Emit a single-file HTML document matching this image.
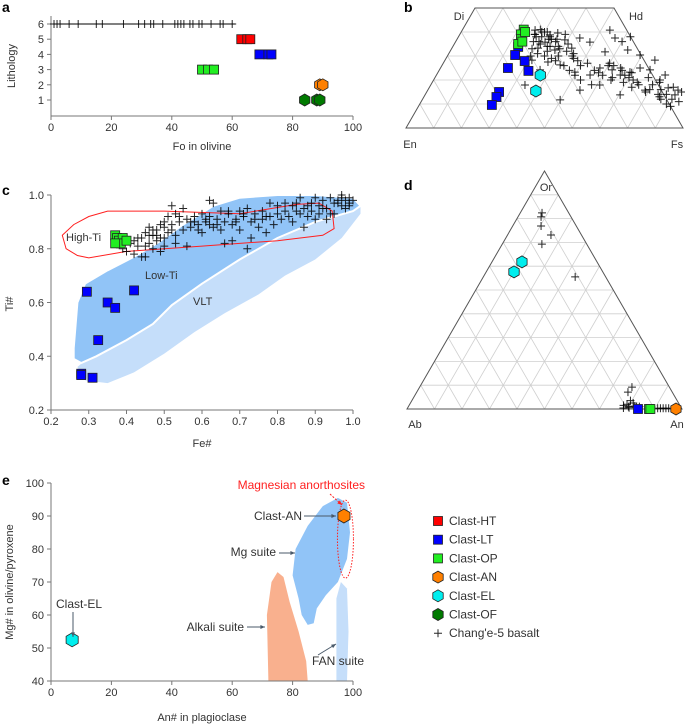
<!DOCTYPE html>
<html><head><meta charset="utf-8">
<style>
body{margin:0;background:#fff;}
svg{display:block;font-family:"Liberation Sans",sans-serif;}
text{fill:#333;}
</style></head>
<body>
<svg id="fig" width="685" height="725" viewBox="0 0 685 725" xmlns="http://www.w3.org/2000/svg">
<defs>
<clipPath id="clipb"><rect x="380" y="8" width="305" height="125"/></clipPath>
</defs>
<g id="layer"></g>
</svg>
<script>
// ---------- DATA ----------
const aBasaltFo=[1,2,3,6,9,15,17,24,29,31,33,34,37,41,42,43,44,46,47,49,50,53,56,57,60];
const aHT=[63,65,66];
const aLT=[69,72,73];
const aOP=[50,52,54];
const aAN=[89,90];
const aOF=[84,88,89];
const bBasaltWo=[40.8,40,38.8,39.6,35.8,33.3,32.5,36.7,33.3,37.5,35.8,28.3,27.5,26.3,23.3,22.1,25,24.2,22.1,23.3,25,24.2,20,16.7,13.8,40.8,37.5,31.7,17.9,15.8,11.7,17.9,24.2,13.8,15.8,28.3,30.4,32.5,22.1,15.8,38,36,34,30,29,27,26,21,19,18,14,12,10,9,20,18,39,37,
 41,40,39,38,37,36,35,34,33,32,31,30,39,37,35,33,31,29,40,38,36,34,32,30,28,26,24,22,20,26,24,22,20,18,16,23,21,19,17,15,13,27,25,23,21,19,17,15,12,11,14,16,22,24,26,28,30,36,38];
const bBasaltFs=[26.2,29,32.6,35,32.3,31,37.5,39,43.2,44,48.5,31.3,37.5,42.5,49.3,55.4,57.5,62.3,66.3,69.2,72,76,81.7,86.3,90.2,53.2,56.7,56,61,54.9,49.8,34,36.3,70.4,78.4,75.7,69.3,63.8,82.5,90.3,28,30,35,40,46,52,60,70,74,80,84,86,89,91,64,58,27,34,
 28,31,27,30,33,28,31,34,29,35,32,30,38,36,41,39,45,38,30,33,36,38,42,35,40,44,47,50,53,62,66,68,72,75,80,58,64,69,73,79,85,60,65,70,77,82,88,92,90,93,87,84,60,56,50,48,45,60,62];
const bLTWo=[33.8,30.4,27.9,25,23.8,15,12.9,9.6];
const bLTFs=[23.6,24.2,28.9,24.3,32.3,26.1,26.2,26.2];
const bOPWo=[41,39,37,35,36,40];
const bOPFs=[22,22,23,23,24,23];
const bELWo=[22,15.4];
const bELFs=[37.5,39.2];
const cBasaltFe=[0.39,0.40,0.41,0.42,0.43,0.44,0.44,0.45,0.46,0.46,0.47,0.47,0.48,0.48,0.49,0.49,0.50,0.50,0.51,0.51,0.52,0.53,0.53,0.54,0.55,0.55,0.56,0.56,0.57,0.58,0.59,0.60,0.60,0.61,0.62,0.62,0.63,0.63,0.64,0.65,0.65,0.66,0.66,0.67,0.68,0.68,0.69,0.70,0.70,0.71,0.72,0.72,0.73,0.73,0.74,0.75,0.76,0.76,0.77,0.78,0.78,0.79,0.80,0.80,0.81,0.82,0.83,0.84,0.84,0.85,0.86,0.86,0.87,0.87,0.88,0.89,0.89,0.90,0.90,0.91,0.91,0.92,0.93,0.93,0.94,0.95,0.95,0.96,0.97,0.97,0.98,0.98,0.99,0.99,1.0,0.45,0.49,0.52,0.42,0.46,
 0.43,0.45,0.47,0.48,0.50,0.52,0.54,0.57,0.59,0.61,0.64,0.67,0.69,0.74,0.77,0.82,0.85,0.88,0.92,0.96,0.94,0.97,0.99,0.50,0.53,0.58,0.62,0.71];
const cBasaltTi=[0.80,0.79,0.82,0.78,0.81,0.77,0.84,0.86,0.82,0.88,0.85,0.80,0.87,0.83,0.89,0.84,0.88,0.81,0.86,0.92,0.89,0.85,0.93,0.90,0.95,0.87,0.91,0.81,0.88,0.92,0.89,0.93,0.86,0.90,0.92,0.98,0.88,0.97,0.91,0.94,0.87,0.90,0.82,0.93,0.89,0.83,0.91,0.94,0.87,0.92,0.95,0.80,0.90,0.84,0.93,0.88,0.94,0.91,0.86,0.92,0.97,0.89,0.93,0.96,0.91,0.94,0.92,0.96,0.90,0.97,0.93,0.99,0.95,0.88,0.92,0.97,0.94,0.99,0.91,0.96,0.93,0.98,0.95,0.91,0.99,0.97,0.93,0.98,0.96,1.0,0.98,0.95,0.99,0.97,0.98,0.77,0.79,0.96,0.83,0.85,
 0.84,0.81,0.87,0.85,0.90,0.87,0.92,0.90,0.87,0.91,0.89,0.94,0.90,0.91,0.92,0.97,0.94,0.96,0.95,0.97,0.93,0.99,0.96,0.84,0.82,0.90,0.89,0.93];
const cLTFe=[0.295,0.35,0.37,0.42,0.325,0.28,0.31,0.28];
const cLTTi=[0.64,0.60,0.58,0.645,0.46,0.335,0.32,0.33];
const cOPFe=[0.37,0.375,0.38,0.39,0.385,0.40,0.37];
const cOPTi=[0.85,0.84,0.83,0.84,0.82,0.83,0.82];
const dBasaltAn=[8.4,7.9,10.3,15.8,14.4,33.4,77.2,76.8,78,79,80,81,82,83,84,79.5,80.5,91,92,93,94,95,78.5];
const dBasaltOr=[80.7,82.4,76.9,73.1,69.3,55.5,9.2,7.1,1.5,2,1,2.5,1.2,0.8,1,3.5,0.5,0.3,0.3,0.3,0.3,0.3,0.4];
const dLTAn=[84];
const dOPAn=[88,88.5];
const dANAn=[97.8];
const dELAn=[10.9,10.1];
const dELOr=[61.8,57.6];
const eANAn=[97]; const eANMg=[90];
const eELAn=[7]; const eELMg=[52.5];

// ---------- helpers ----------
const NS="http://www.w3.org/2000/svg";
const L=document.getElementById('layer');
function mk(tag,attrs,parent){const e=document.createElementNS(NS,tag);for(const k in attrs)e.setAttribute(k,attrs[k]);(parent||L).appendChild(e);return e;}
function lin(d0,d1,r0,r1){return v=>r0+(v-d0)/(d1-d0)*(r1-r0);}
function txt(x,y,s,size,anchor,extra){const t=mk('text',Object.assign({x:x,y:y,'font-size':size,'text-anchor':anchor||'start'},extra||{}));t.textContent=s;return t;}
function sq(x,y,c,name){const e=mk('rect',{x:x-4.5,y:y-4.5,width:9,height:9,fill:c,stroke:'#222','stroke-width':0.8});

return e;}
function hex(x,y,c,name,r){r=r||6;let p=[];for(let i=0;i<6;i++){const a=Math.PI/3*i+Math.PI/6;p.push((x+r*Math.cos(a)).toFixed(1)+','+(y+r*Math.sin(a)).toFixed(1));}
const e=mk('polygon',{points:p.join(' '),fill:c,stroke:'#222','stroke-width':0.8});

return e;}
function cross(x,y,name){const e=mk('path',{d:`M${x-4},${y}H${x+4}M${x},${y-4}V${y+4}`,stroke:'#000','stroke-width':1,'stroke-opacity':0.85});

return e;}
function poly(pts,fx,fy,attrs,name){const e=mk('polygon',Object.assign({points:pts.map(p=>fx(p[0]).toFixed(1)+','+fy(p[1]).toFixed(1)).join(' ')},attrs));

return e;}
function axes(x0,x1,y0,y1,xt,yt,fx,fy,xfmt,yfmt,prefix){
 const g=mk('g',{});
 
 
 mk('line',{x1:x0,y1:y1,x2:x1,y2:y1,stroke:'#777','stroke-width':1},g);
 mk('line',{x1:x0,y1:y0,x2:x0,y2:y1,stroke:'#777','stroke-width':1},g);
 xt.forEach(v=>{const x=fx(v);mk('line',{x1:x,y1:y1,x2:x,y2:y1+4,stroke:'#777'},g);const t=txt(x,y1+15,xfmt(v),11,'middle');g.appendChild(t);});
 yt.forEach(v=>{const y=fy(v);mk('line',{x1:x0-4,y1:y,x2:x0,y2:y,stroke:'#777'},g);const t=txt(x0-7,y+4,yfmt(v),11,'end');g.appendChild(t);});
}
function panelLetter(x,y,s){const t=txt(x,y,s,14,'start',{'font-weight':'bold',style:'fill:#000'});

}

// ---------- Panel a ----------
panelLetter(2,12,'a');
const xa=lin(0,100,51,353), ya=lin(1,6,100,24);
axes(51,353,16,116,[0,20,40,60,80,100],[1,2,3,4,5,6],xa,ya,v=>v,v=>v,'panel-a');
txt(202,150,'Fo in olivine',11,'middle');
txt(15,66,'Lithology',11,'middle',{transform:'rotate(-90 15 66)'});
mk('line',{x1:xa(1),y1:ya(6),x2:xa(61),y2:ya(6),stroke:'#000','stroke-width':1});
aBasaltFo.forEach(v=>cross(xa(v),ya(6),'a-basalt-point'));
aHT.forEach(v=>sq(xa(v),ya(5),'#ff0000','a-clast-ht'));
aLT.forEach(v=>sq(xa(v),ya(4),'#0000ff','a-clast-lt'));
aOP.forEach(v=>sq(xa(v),ya(3),'#22ee22','a-clast-op'));
aAN.forEach(v=>hex(xa(v),ya(2),'#ff8000','a-clast-an'));
aOF.forEach(v=>hex(xa(v),ya(1),'#007a00','a-clast-of'));

function ternGrid(E,F,A,n,clip,name){
 const g=mk('g',clip?{'clip-path':'url(#clipb)'}:{});
 
 
 const P=(a,b,c)=>[a[0]+(b[0]-a[0])*c,a[1]+(b[1]-a[1])*c];
 for(let i=1;i<n;i++){const f=i/n;
  let p1=P(E,A,f),p2=P(F,A,f);mk('line',{x1:p1[0],y1:p1[1],x2:p2[0],y2:p2[1],stroke:'#cfcfcf','stroke-width':0.8},g);
  p1=P(E,F,f);p2=P(E,A,f);mk('line',{x1:p1[0],y1:p1[1],x2:p2[0],y2:p2[1],stroke:'#cfcfcf','stroke-width':0.8},g);
  p1=P(E,F,f);p2=P(F,A,1-f);mk('line',{x1:p1[0],y1:p1[1],x2:p2[0],y2:p2[1],stroke:'#cfcfcf','stroke-width':0.8},g);
 }
}

// ---------- Panel b ----------
panelLetter(404,12,'b');
const bE=[406,128],bF=[683,128],bA=[544.5,-112];
ternGrid(bE,bF,bA,10,true,'b-grid');
const bOut=mk('polygon',{points:'406,128 683,128 614,8 475,8',fill:'none',stroke:'#555','stroke-width':1});


const bx=(wo,fs)=>406+277*(fs/100+wo/200), by=wo=>128-240*wo/100;
txt(459,20,'Di',11,'middle');txt(636,20,'Hd',11,'middle');
txt(410,148,'En',11,'middle');txt(677,148,'Fs',11,'middle');
bBasaltWo.forEach((w,i)=>cross(bx(w,bBasaltFs[i]),by(w),'b-basalt-point'));
bLTWo.forEach((w,i)=>sq(bx(w,bLTFs[i]),by(w),'#0000ff','b-clast-lt'));
bOPWo.forEach((w,i)=>sq(bx(w,bOPFs[i]),by(w),'#22ee22','b-clast-op'));
bELWo.forEach((w,i)=>hex(bx(w,bELFs[i]),by(w),'#00eeee','b-clast-el'));

// ---------- Panel c ----------
panelLetter(2,195,'c');
const xc=lin(0.2,1,51,353), yc=lin(0.2,1,410,195);
poly([[0.27,0.36],[0.29,0.31],[0.35,0.30],[0.42,0.34],[0.50,0.41],[0.58,0.49],[0.66,0.56],[0.75,0.63],[0.82,0.70],[0.90,0.76],[0.97,0.84],[1.02,0.93],[1.02,0.96],[0.98,0.95],[0.90,0.91],[0.80,0.86],[0.70,0.79],[0.60,0.70],[0.52,0.62],[0.47,0.56],[0.40,0.49],[0.32,0.42]],xc,yc,{fill:'#c5defa'},'c-vlt-field');
poly([[0.26,0.43],[0.26,0.39],[0.28,0.375],[0.32,0.40],[0.40,0.46],[0.47,0.52],[0.52,0.59],[0.60,0.67],[0.70,0.76],[0.80,0.84],[0.90,0.90],[1.0,0.94],[1.02,0.96],[1.0,0.99],[0.90,1.0],[0.80,1.0],[0.70,0.99],[0.63,0.96],[0.55,0.89],[0.48,0.82],[0.42,0.77],[0.35,0.72],[0.29,0.67],[0.27,0.60]],xc,yc,{fill:'#91c4f7',stroke:'#fff','stroke-width':2},'c-lowti-field');
poly([[0.23,0.85],[0.26,0.89],[0.30,0.92],[0.35,0.94],[0.50,0.94],[0.70,0.93],[0.85,0.965],[0.91,0.97],[0.945,0.94],[0.95,0.875],[0.92,0.85],[0.80,0.83],[0.60,0.81],[0.40,0.79],[0.30,0.766],[0.27,0.775],[0.24,0.80]],xc,yc,{fill:'none',stroke:'#ff2020','stroke-width':1},'c-highti-outline');
axes(51,353,195,410,[0.2,0.3,0.4,0.5,0.6,0.7,0.8,0.9,1.0],[0.2,0.4,0.6,0.8,1.0],xc,yc,v=>v.toFixed(1),v=>v.toFixed(1),'panel-c');
txt(202,447,'Fe#',11,'middle');
txt(13,304,'Ti#',11,'middle',{transform:'rotate(-90 13 304)'});
txt(66,241,'High-Ti',11,'start');txt(145,279,'Low-Ti',11,'start');txt(193,305,'VLT',11,'start');
cBasaltFe.forEach((f,i)=>cross(xc(f),yc(cBasaltTi[i]),'c-basalt-point'));
cLTFe.forEach((f,i)=>sq(xc(f),yc(cLTTi[i]),'#0000ff','c-clast-lt'));
cOPFe.forEach((f,i)=>sq(xc(f),yc(cOPTi[i]),'#22ee22','c-clast-op'));

// ---------- Panel d ----------
panelLetter(404,190,'d');
const dAb=[407,409],dAn=[682,409],dOr=[544.5,171];
ternGrid(dAb,dAn,dOr,10,false,'d-grid');
const dOut=mk('polygon',{points:'407,409 682,409 544.5,171',fill:'none',stroke:'#555','stroke-width':1});


const dx=(an,or)=>407+275*(an/100+or/200), dy=or=>409-238*or/100;
txt(546,191,'Or',11,'middle');txt(415,428,'Ab',11,'middle');txt(677,428,'An',11,'middle');
dBasaltAn.forEach((a,i)=>cross(dx(a,dBasaltOr[i]),dy(dBasaltOr[i]),'d-basalt-point'));
dLTAn.forEach(a=>sq(dx(a,0),dy(0),'#0000ff','d-clast-lt'));
dOPAn.forEach(a=>sq(dx(a,0),dy(0),'#22ee22','d-clast-op'));
dANAn.forEach(a=>hex(dx(a,0),dy(0),'#ff8000','d-clast-an'));
dELAn.forEach((a,i)=>hex(dx(a,dELOr[i]),dy(dELOr[i]),'#00eeee','d-clast-el'));

// ---------- Panel e ----------
panelLetter(2,485,'e');
const xe=lin(0,100,51,353), ye=lin(40,100,681,483);
poly([[80,72],[81,80],[85,87],[90,93],[95,95.5],[98,94],[99,85],[98,77],[95,70],[91,66],[88,62],[87,57.5],[85,57],[83,60],[82,65]],xe,ye,{fill:'#91c4f7'},'e-mg-suite-field');
poly([[72,40],[71.5,60],[73,70],[75,73],[77,71.5],[79,64],[82,55],[84.5,46],[85,40]],xe,ye,{fill:'#f9b08e'},'e-alkali-suite-field');
poly([[94.5,40],[94.5,65],[96,70],[98,68],[98.5,55],[98,40]],xe,ye,{fill:'#c5defa'},'e-fan-suite-field');
const el=mk('ellipse',{cx:xe(97.5),cy:ye(83),rx:8,ry:39,fill:'none',stroke:'#ff2020','stroke-width':1,'stroke-dasharray':'1.5,1.5'});


axes(51,353,483,681,[0,20,40,60,80,100],[40,50,60,70,80,90,100],xe,ye,v=>v,v=>v,'panel-e');
txt(202,721,'An# in plagioclase',11,'middle');
txt(13,582,'Mg# in olivine/pyroxene',11,'middle',{transform:'rotate(-90 13 582)'});
eANAn.forEach((a,i)=>hex(xe(a),ye(eANMg[i]),'#ff8000','e-clast-an',7));
eELAn.forEach((a,i)=>hex(xe(a),ye(eELMg[i]),'#00eeee','e-clast-el',7));
function arrow(x1,y1,x2,y2,col,dash,name){const g=mk('g',{});
 
 
 mk('line',Object.assign({x1:x1,y1:y1,x2:x2,y2:y2,stroke:col,'stroke-width':1},dash?{'stroke-dasharray':'2,1.5'}:{}),g);
 const a=Math.atan2(y2-y1,x2-x1),s=5;
 mk('polygon',{points:`${x2},${y2} ${x2-s*Math.cos(a-0.4)},${y2-s*Math.sin(a-0.4)} ${x2-s*Math.cos(a+0.4)},${y2-s*Math.sin(a+0.4)}`,fill:col},g);}
txt(365,489,'Magnesian anorthosites',12,'end',{style:'fill:#ff2020'});
arrow(330,494,342,505,'#ff2020',true,'e-magnesian-arrow');
txt(302,520,'Clast-AN',12,'end');arrow(304,516,336,516,'#4a5a6a',false,'e-clast-an-arrow');
txt(276,556,'Mg suite',12,'end');arrow(279,553,295,553,'#4a5a6a',false,'e-mg-suite-arrow');
txt(244,631,'Alkali suite',12,'end');arrow(247,627,265,627,'#4a5a6a',false,'e-alkali-arrow');
txt(364,665,'FAN suite',12,'end');arrow(318,655,336,644,'#4a5a6a',false,'e-fan-arrow');
txt(79,608,'Clast-EL',12,'middle');arrow(73,612,73,637,'#4a5a6a',false,'e-clast-el-arrow');

// ---------- Legend ----------
const legNames=['Clast-HT','Clast-LT','Clast-OP','Clast-AN','Clast-EL','Clast-OF',"Chang'e-5 basalt"];
const legCols=['#ff0000','#0000ff','#22ee22','#ff8000','#00eeee','#007a00',null];
legNames.forEach((n,i)=>{const y=521+i*18.7;
 if(i<3)sq(438,y,legCols[i],'legend-marker');else if(i<6)hex(438,y,legCols[i],'legend-marker');else cross(438,y,'legend-marker');
 const t=txt(449,y+4,n,12,'start');
 
 });
</script>
</body></html>
